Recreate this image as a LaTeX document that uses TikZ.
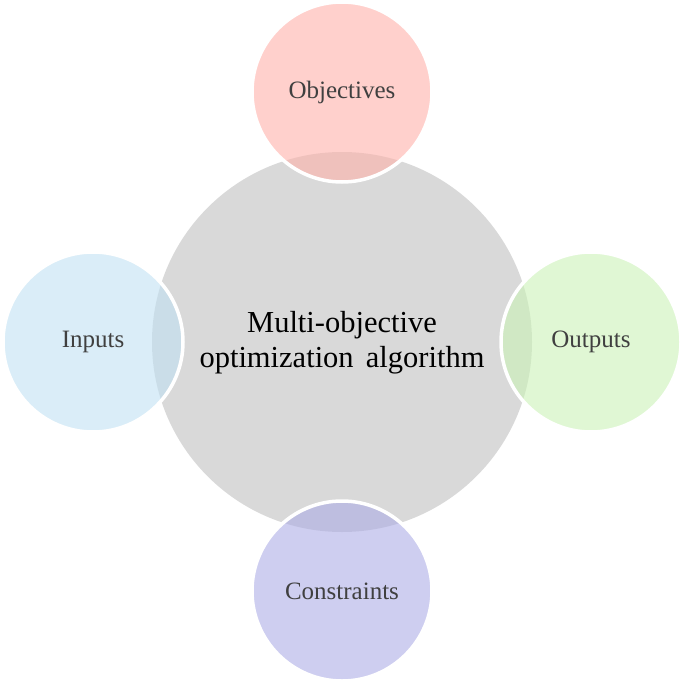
\documentclass[tikz,border=0pt]{standalone}
\usepackage{fontspec}
\setmainfont{Liberation Serif}
\usepackage{tikz}
\usetikzlibrary{positioning}
\definecolor{hubgray}{RGB}{217,217,217}
\definecolor{objpink}{RGB}{255,177,170}
\definecolor{inblue}{RGB}{193,225,243}
\definecolor{outgreen}{RGB}{203,242,183}
\definecolor{conpurple}{RGB}{173,173,230}
\definecolor{labelgray}{RGB}{64,64,64}

\begin{document}
\begin{tikzpicture}[x=1pt,y=-1pt,
	hub/.style={circle,fill=hubgray,minimum size=380pt,inner sep=0pt,align=center,font=\fontsize{30.5}{35}\selectfont},
	sat/.style={circle,draw=white,line width=3.5pt,fill opacity=0.6,text opacity=1,minimum size=180pt,inner sep=0pt,text=labelgray,font=\fontsize{25}{29}\selectfont}]
	\useasboundingbox (0,0) rectangle (685,685);
	\node[hub] (algo) at (342,342) {};
	\node[align=center,font=\fontsize{30.5}{35}\selectfont] (algotext) at (342,343) {Multi-objective\\optimization\hspace{0.15em} algorithm};
	\node[sat,fill=objpink] (obj) at (342,92) {Objectives};
	\node[sat,fill=inblue] (in) at (93,342) {Inputs};
	\node[sat,fill=outgreen] (out) at (591,342) {Outputs};
	\node[sat,fill=conpurple] (con) at (342,591) {Constraints};
\end{tikzpicture}
\end{document}
